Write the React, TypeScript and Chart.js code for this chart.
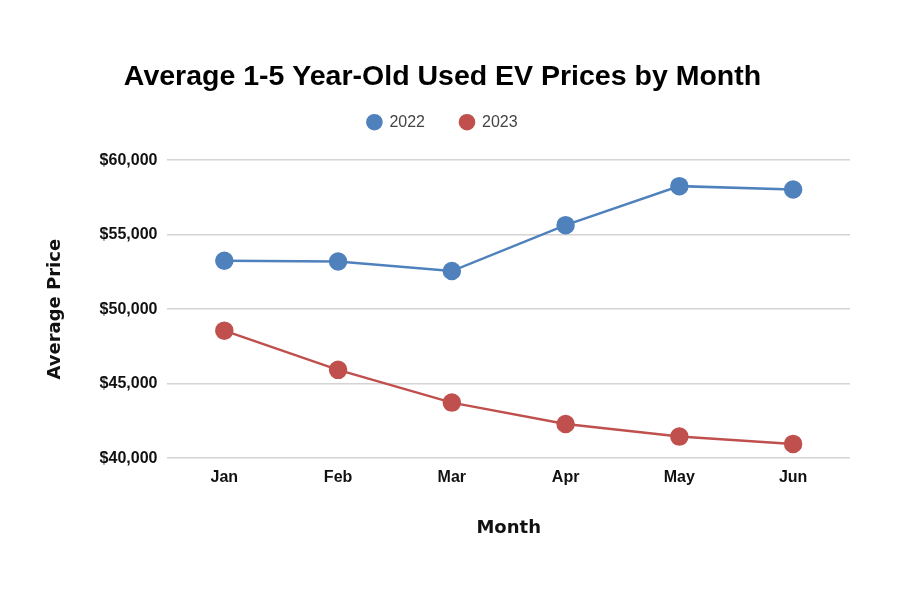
import { useEffect, useRef } from "react"
import { Chart, registerables } from "chart.js"

Chart.register(...registerables)

const months = ["Jan", "Feb", "Mar", "Apr", "May", "Jun"]
const prices2022 = [53250, 53200, 52560, 55640, 58260, 58030]
const prices2023 = [48560, 45930, 43730, 42300, 41450, 40960]
const yTickValues = [40000, 45000, 50000, 55000, 60000]

const BLUE = "#4f81bd"
const RED = "#c0504d"

// push the plot area a bit further below the legend
const legendGap = {
  id: "legendGap",
  beforeInit(chart: any) {
    const fit = chart.legend.fit
    chart.legend.fit = function () {
      fit.call(this)
      this.height += 20
    }
  },
}

export default function App() {
  const chartRef = useRef<HTMLCanvasElement>(null)
  const chartInstance = useRef<Chart | null>(null)

  useEffect(() => {
    if (!chartRef.current) return
    if (chartInstance.current) chartInstance.current.destroy()

    const ctx = chartRef.current.getContext("2d")
    if (!ctx) return

    chartInstance.current = new Chart(ctx, {
      type: "line",
      data: {
        labels: months,
        datasets: [
          {
            label: "2022",
            data: prices2022,
            borderColor: BLUE,
            backgroundColor: BLUE,
            borderWidth: 2.5,
            pointRadius: 8,
            pointHoverRadius: 8,
            pointBackgroundColor: BLUE,
            pointBorderColor: BLUE,
            tension: 0,
          },
          {
            label: "2023",
            data: prices2023,
            borderColor: RED,
            backgroundColor: RED,
            borderWidth: 2.5,
            pointRadius: 8,
            pointHoverRadius: 8,
            pointBackgroundColor: RED,
            pointBorderColor: RED,
            tension: 0,
          },
        ],
      },
      options: {
        responsive: false,
        animation: false,
        layout: { padding: { left: 35, right: 50, top: 0, bottom: 61 } },
        scales: {
          x: {
            offset: true,
            grid: { display: false, drawTicks: false },
            border: { display: false },
            ticks: {
              padding: 10,
              color: "#111",
              font: { family: "'Liberation Sans', Arial, sans-serif", size: 16, weight: "bold" },
            },
            title: {
              display: true,
              text: "Month",
              color: "#111",
              padding: { top: 20, bottom: 0 },
              font: { family: "'DejaVu Sans', Verdana, sans-serif", size: 18, weight: "bold" },
            },
          },
          y: {
            min: yTickValues[0],
            max: yTickValues[yTickValues.length - 1],
            afterBuildTicks: (scale: any) => {
              scale.ticks = yTickValues.map((v) => ({ value: v }))
            },
            grid: { color: "#d4d4d4", lineWidth: 1.5, drawTicks: false },
            border: { display: false },
            ticks: {
              padding: 10,
              color: "#111",
              font: { family: "'Liberation Sans', Arial, sans-serif", size: 16, weight: "bold" },
              callback: (v: any) => "$" + Number(v).toLocaleString("en-US"),
            },
            title: {
              display: true,
              text: "Average Price",
              color: "#111",
              padding: { top: 10, bottom: 23 },
              font: { family: "'DejaVu Sans', Verdana, sans-serif", size: 18, weight: "bold" },
            },
          },
        },
        plugins: {
          title: {
            display: true,
            text: "Average 1-5 Year-Old Used EV Prices by Month",
            color: "#000",
            padding: { top: 60, bottom: -15 },
            font: { family: "'Liberation Sans', Arial, sans-serif", size: 28.5, weight: "bold" },
          },
          legend: {
            display: true,
            labels: {
              usePointStyle: true,
              pointStyle: "circle",
              boxHeight: 10,
              boxWidth: 14,
              padding: 35,
              color: "#444",
              font: { family: "'Liberation Sans', Arial, sans-serif", size: 16 },
            },
          },
          tooltip: { enabled: false },
        },
      },
      plugins: [legendGap],
    })

    return () => {
      if (chartInstance.current) {
        chartInstance.current.destroy()
        chartInstance.current = null
      }
    }
  }, [])

  return (
    <div style={{ position: "fixed", left: 0, top: 0, width: 900, height: 600, background: "#fff" }}>
      <canvas ref={chartRef} width={900} height={600} style={{ width: 900, height: 600 }} />
    </div>
  )
}
